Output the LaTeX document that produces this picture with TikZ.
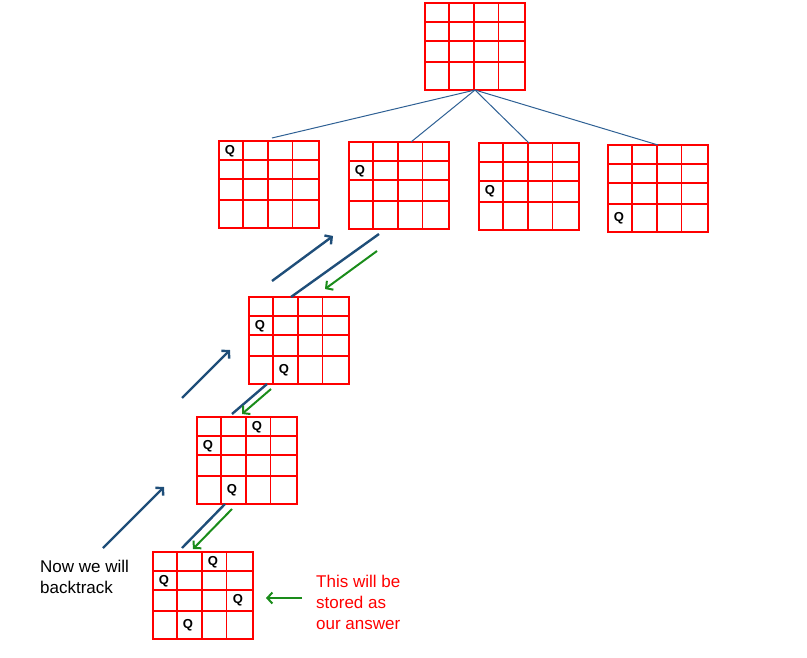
\documentclass[tikz,border=0pt]{standalone}
\usepackage{fontspec}
\setmainfont{Liberation Sans}
\usetikzlibrary{arrows.meta,calc}
\definecolor{treeblue}{RGB}{46,96,148}
\definecolor{stepblue}{RGB}{31,78,121}
\definecolor{stepgreen}{RGB}{26,140,26}
\tikzset{
	boardbox/.style={rectangle,draw=red,line width=1.9pt,minimum width=100pt,minimum height=87pt,inner sep=0pt,outer sep=0pt,anchor=north west},
	boardline/.style={red,line width=1.9pt},
	queen/.style={font=\fontsize{13}{13}\selectfont\bfseries,inner sep=0pt},
	tree/.style={treeblue,line width=1pt},
	fwd/.style={stepblue,line width=2.4pt},
	bwd/.style={stepgreen,line width=2pt},
	note/.style={font=\fontsize{17}{21}\selectfont,align=left,anchor=north west,inner sep=0pt}
}
% 4x4 board: name, top left corner
\newcommand{\drawboard}[3]{%
	\node[boardbox] (#1) at (#2,#3) {};
	\foreach \f in {0.24,0.49,0.735}
		\draw[boardline] ($(#1.north west)!\f!(#1.north east)$) -- ($(#1.south west)!\f!(#1.south east)$);
	\foreach \f in {0.215,0.44,0.675}
		\draw[boardline] ($(#1.north west)!\f!(#1.south west)$) -- ($(#1.north east)!\f!(#1.south east)$);
}
% queen: board, column, row
\newcommand{\putqueen}[3]{%
	\pgfmathsetmacro{\qx}{{11,35,60,85}[#2]}%
	\pgfmathsetmacro{\qy}{{10,29,48,73}[#3]}%
	\node[queen] (#1q#2#3) at ($(#1.north west)+(\qx,\qy)$) {Q};
}
\begin{document}
\begin{tikzpicture}[x=1pt,y=-1pt,>={Straight Barb[length=5pt,width=11pt]}]
	\useasboundingbox (0,0) rectangle (807,658);
	%Root
	\drawboard{root}{425}{3}
	%Level 1
	\drawboard{c1}{219}{141}
	\putqueen{c1}{0}{0}
	\drawboard{c2}{349}{142}
	\putqueen{c2}{0}{1}
	\drawboard{c3}{479}{143}
	\putqueen{c3}{0}{2}
	\drawboard{c4}{608}{145}
	\putqueen{c4}{0}{3}
	%Tree lines
	\draw[tree] (root.south) -- ($(c1.north)+(3,-3)$);
	\draw[tree] (root.south) -- ($(c2.north)+(12,0)$);
	\draw[tree] (root.south) -- (c3.north);
	\draw[tree] (root.south) -- (c4.north);
	%Level 2
	\drawboard{m1}{249}{297}
	\putqueen{m1}{0}{1}
	\putqueen{m1}{1}{3}
	%Level 3
	\drawboard{m2}{197}{417}
	\putqueen{m2}{2}{0}
	\putqueen{m2}{0}{1}
	\putqueen{m2}{1}{3}
	%Answer
	\drawboard{sol}{153}{552}
	\putqueen{sol}{2}{0}
	\putqueen{sol}{0}{1}
	\putqueen{sol}{3}{2}
	\putqueen{sol}{1}{3}
	%Going down
	\coordinate (u1a) at (103,548); \coordinate (u1b) at (164,487);
	\coordinate (u2a) at (182,398); \coordinate (u2b) at (230,350);
	\coordinate (u3a) at (272,281); \coordinate (u3b) at (333,236);
	\draw[fwd,->] (u1a) -- (u1b);
	\draw[fwd,->] (u2a) -- (u2b);
	\draw[fwd,->] (u3a) -- (u3b);
	%Links
	\coordinate (l1a) at (182,548); \coordinate (l1b) at (225,504);
	\coordinate (l2a) at (232,414); \coordinate (l2b) at (267,384);
	\coordinate (l3a) at (291,297); \coordinate (l3b) at (379,234);
	\draw[fwd] (l1a) -- (l1b);
	\draw[fwd] (l2a) -- (l2b);
	\draw[fwd] (l3a) -- (l3b);
	%Going back
	\coordinate (d1a) at (377,251); \coordinate (d1b) at (325,289);
	\coordinate (d2a) at (271,389); \coordinate (d2b) at (242,414);
	\coordinate (d3a) at (232,509); \coordinate (d3b) at (193,549);
	\coordinate (d4a) at (302,598); \coordinate (d4b) at (266,598);
	\draw[bwd,->] (d1a) -- (d1b);
	\draw[bwd,->] (d2a) -- (d2b);
	\draw[bwd,->] (d3a) -- (d3b);
	\draw[bwd,->] (d4a) -- (d4b);
	%Notes
	\node[note] (backtrack) at (40,560) {Now we will\\backtrack};
	\node[note,text=red] (answer) at (316,575) {This will be\\stored as\\our answer};
\end{tikzpicture}
\end{document}
